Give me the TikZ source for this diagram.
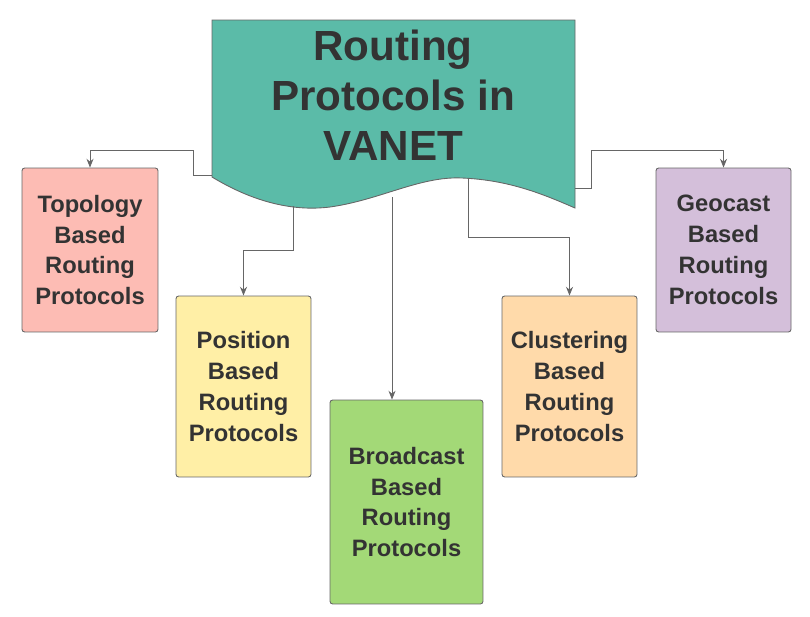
\documentclass[tikz,border=0pt]{standalone}
\usepackage{fontspec}
\setmainfont{Liberation Sans}
\usetikzlibrary{arrows.meta}
\definecolor{txt}{HTML}{333333}
\definecolor{edgec}{HTML}{666666}
\definecolor{teal1}{HTML}{5BBBA8}
\definecolor{topo}{HTML}{FDBCB4}
\definecolor{posi}{HTML}{FFEFA6}
\definecolor{broad}{HTML}{A3D977}
\definecolor{clus}{HTML}{FFDAAA}
\definecolor{geo}{HTML}{D4BFDA}
\begin{document}
\begin{tikzpicture}[x=0.02cm,y=-0.02cm,
  box/.style={draw=edgec, line width=0.5pt, rounded corners=1.5pt, align=center,
    text=txt, font=\fontsize{13.5}{17.6}\selectfont\bfseries, inner sep=0pt},
  link/.style={draw=edgec, line width=0.5pt, -{Stealth[length=5pt,width=4pt]}}
]
\useasboundingbox (0,0) rectangle (810,616);
% main banner
\draw[draw=edgec, line width=0.5pt, fill=teal1] (212,20) -- (575,20) -- (575,208)
  .. controls (545,195) and (510,180) .. (462,178)
  .. controls (420,176) and (380,200) .. (330,207)
  .. controls (290,212) and (250,200) .. (212,177) -- cycle;
\node[text=txt, align=center, font=\fontsize{24}{28.5}\selectfont\bfseries] (main) at (393,95)
  {Routing\\Protocols in\\VANET};
\coordinate (mL) at (212,175);
\coordinate (mP) at (293,206);
\coordinate (mB) at (392,197);
\coordinate (mC) at (468,178);
\coordinate (mR) at (575,188);
% boxes
\node[box, fill=topo, minimum width=2.72cm, minimum height=3.28cm] (topo) at (90,250)
  {Topology\\Based\\Routing\\Protocols};
\node[box, fill=posi, minimum width=2.7cm, minimum height=3.62cm] (posi) at (243.5,386.5)
  {Position\\Based\\Routing\\Protocols};
\node[box, fill=broad, minimum width=3.06cm, minimum height=4.08cm] (broad) at (406.5,502)
  {Broadcast\\Based\\Routing\\Protocols};
\node[box, fill=clus, minimum width=2.7cm, minimum height=3.62cm] (clus) at (569.5,386.5)
  {Clustering\\Based\\Routing\\Protocols};
\node[box, fill=geo, minimum width=2.7cm, minimum height=3.28cm] (geo) at (723.5,250)
  {Geocast\\Based\\Routing\\Protocols};
% connectors
\draw[link] (mL) -- (193,175) -- (193,150) -- (topo.north |- 0,150) -- (topo.north);
\draw[link] (mP) -- (293,250) -- (posi.north |- 0,250) -- (posi.north);
\draw[link] (mB) -- (mB |- broad.north);
\draw[link] (mC) -- (468,237) -- (clus.north |- 0,237) -- (clus.north);
\draw[link] (mR) -- (591,188) -- (591,150) -- (geo.north |- 0,150) -- (geo.north);
\end{tikzpicture}
\end{document}
